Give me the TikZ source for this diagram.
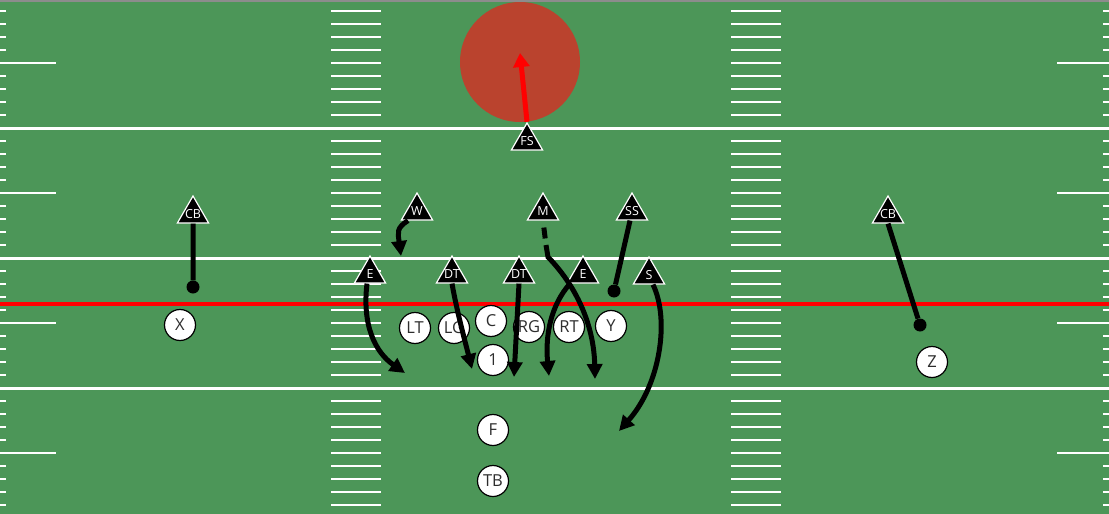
\documentclass[tikz,border=0pt]{standalone}
\usepackage{fontspec}
\setsansfont{Open Sans}
\usetikzlibrary{arrows.meta,
    shapes.geometric}
\definecolor{fieldgreen}{RGB}{76,150,88}
\definecolor{zonered}{RGB}{186,67,46}
\definecolor{labelgray}{RGB}{45,45,45}
\tikzset{
  offense/.style={circle, draw=black, fill=white, line width=1.2pt, minimum size=31pt, inner sep=0pt, text=labelgray, font=\sffamily\fontsize{16.5}{17}\selectfont},
  defense/.style={regular polygon, regular polygon sides=3, draw=white, fill=black, line width=1.2pt, minimum size=36pt, inner sep=-6pt, text=white, font=\sffamily\fontsize{12.5}{13}\selectfont},
  spot/.style={circle, fill=black, minimum size=13pt, inner sep=0pt},
  zone/.style={circle, fill=zonered, minimum size=120pt, inner sep=0pt},
  stem/.style={draw=black, line width=5pt},
  route/.style={stem, -{Triangle[length=15pt,width=15pt]}},
  blitz/.style={draw=red, line width=5pt, -{Triangle[length=14pt,width=16pt]}},
  yardline/.style={draw=white, line width=3pt},
  hash/.style={draw=white, line width=1.8pt},
  }

\begin{document}
\begin{tikzpicture}[x=1pt, y=-1pt]
  \useasboundingbox (0,0) rectangle (1109,514);
  % the field
  \fill[fieldgreen] (0,0) rectangle (1109,514);
  \draw[black!45, line width=1.5pt] (0,0.75) -- (1109,0.75);
  \foreach \k in {1,...,39} {
    \draw[hash] (331,{13*\k-2}) -- (381,{13*\k-2});
    \draw[hash] (731,{13*\k-2}) -- (781,{13*\k-2});
    \draw[hash] (0,{13*\k-2}) -- (6,{13*\k-2});
    \draw[hash] (1103,{13*\k-2}) -- (1109,{13*\k-2});
  }
  \foreach \k in {5,15,25,35} {
    \draw[hash] (0,{13*\k-2}) -- (56,{13*\k-2});
    \draw[hash] (1057,{13*\k-2}) -- (1109,{13*\k-2});
  }
  \foreach \y in {128,258,388}
    \draw[yardline] (0,\y) -- (1109,\y);
  \node [zone] (deep zone) at (520,62) {};
  \draw[red, line width=4pt] (0,304) -- (1109,304);

  % offense
  \node [offense] (x)  at (180,325) {X};
  \node [offense] (lt) at (415,328) {LT};
  \node [offense] (lg) at (454,328) {LG};
  \node [offense] (c)  at (491,321) {C};
  \node [offense] (rg) at (529,327) {RG};
  \node [offense] (rt) at (569,327) {RT};
  \node [offense] (y)  at (611,326) {Y};
  \node [offense] (qb) at (493,360) {1};
  \node [offense] (f)  at (493,430) {F};
  \node [offense] (tb) at (493,481) {TB};
  \node [offense] (z)  at (932,362) {Z};

  % defense
  \node [defense] (free safety)  at (527,141) {FS};
  \node [defense] (left corner)  at (193,214) {CB};
  \node [defense] (will)         at (417,211) {W};
  \node [defense] (mike)         at (543,211) {M};
  \node [defense] (strong)       at (632,211) {SS};
  \node [defense] (right corner) at (888,214) {CB};
  \node [defense] (left end)     at (370,274) {E};
  \node [defense] (left tackle)  at (452,274) {DT};
  \node [defense] (right tackle) at (519,274) {DT};
  \node [defense] (right end)    at (583,274) {E};
  \node [defense] (sam)          at (649,275) {S};

  \node [spot] (left corner spot)  at (193,287) {};
  \node [spot] (right corner spot) at (920,325) {};
  \node [spot] (strong spot)       at (614,291) {};

  \coordinate (free safety end)  at (520,53);
  \coordinate (will end)         at (401,256);
  \coordinate (mike turn)        at (546,245);
  \coordinate (mike end)         at (595,379);
  \coordinate (left end end)     at (405,373);
  \coordinate (left tackle end)  at (472,369);
  \coordinate (right tackle end) at (514,377);
  \coordinate (right end end)    at (549,376);
  \coordinate (sam end)          at (619,431);

  % routes
  \draw[blitz] (free safety.north) -- (free safety end);
  \draw[stem] (left corner.south) -- (left corner spot);
  \draw[stem] (right corner.south) -- (right corner spot);
  \draw[stem] ([xshift=-2pt]strong.south) -- (strong spot);
  \draw[route] ([xshift=-9pt]will.south) .. controls (396,228) and (398,233) .. (will end);
  \draw[stem, dash pattern=on 0pt off 7pt on 11pt off 20pt] (mike.south) -- (mike turn);
  \draw[route] (mike turn) -- (548,257) .. controls (580,290) and (594,330) .. (mike end);
  \draw[route] ([xshift=-3pt]left end.south) .. controls (362,325) and (375,352) .. (left end end);
  \draw[route] (left tackle.south) .. controls (457,312) and (466,345) .. (left tackle end);
  \draw[route] (right tackle.south) -- (right tackle end);
  \draw[route] ([xshift=-13pt]right end.south) .. controls (551,305) and (545,335) .. (right end end);
  \draw[route] ([xshift=4pt]sam.south) .. controls (670,320) and (660,385) .. (sam end);
\end{tikzpicture}
\end{document}
